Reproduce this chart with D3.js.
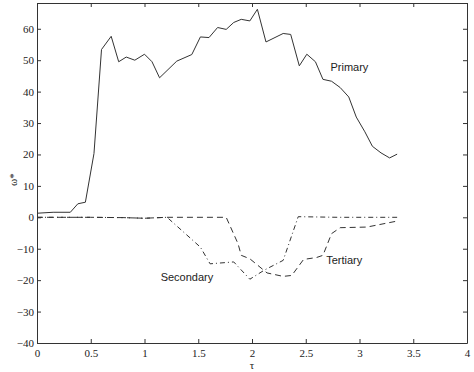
<!DOCTYPE html>
<html>
<head>
<meta charset="utf-8">
<script src="https://cdn.jsdelivr.net/npm/d3@7"></script>
<style>
  body { margin: 0; background: #fff; }
  svg { display: block; }
</style>
</head>
<body>
<svg id="chart"></svg>
<script>
// values
const primaryTau = [0, 0.15, 0.31, 0.38, 0.45, 0.53, 0.60, 0.69, 0.76, 0.83, 0.91, 1.0, 1.07, 1.14, 1.30, 1.44, 1.52, 1.60, 1.68, 1.76, 1.83, 1.90, 1.98, 2.05, 2.13, 2.29, 2.36, 2.44, 2.51, 2.59, 2.66, 2.74, 2.82, 2.90, 2.97, 3.05, 3.12, 3.20, 3.28, 3.35];
const primaryVal = [1.3, 1.6, 1.6, 4.3, 4.8, 20.3, 53.4, 57.6, 49.5, 51, 50, 51.9, 49.5, 44.4, 49.7, 51.8, 57.4, 57.2, 60.4, 59.8, 62, 63, 62.5, 66.2, 55.8, 58.5, 58.2, 48.2, 51.9, 49.5, 43.9, 43.3, 41.3, 38.3, 31.9, 27.2, 22.6, 20.5, 18.9, 20.1];

const secondaryTau = [0, 0.5, 0.8, 1.0, 1.21, 1.52, 1.61, 1.83, 1.98, 2.12, 2.29, 2.43, 2.8, 3.35];
const secondaryVal = [0, 0, -0.1, -0.3, 0, -9.5, -14.8, -14.2, -19.7, -16.7, -13.7, 0.2, 0, 0];

const tertiaryTau = [0, 0.5, 0.8, 1.0, 1.2, 1.76, 1.87, 1.90, 1.98, 2.14, 2.29, 2.37, 2.48, 2.60, 2.66, 2.74, 2.82, 3.07, 3.35];
const tertiaryVal = [0, 0, -0.1, -0.3, 0, 0, -8.4, -12.1, -13.2, -17.7, -18.8, -18.5, -13.4, -12.8, -12.1, -5.2, -3.3, -3.1, -1.2];

const xTicks = [0, 0.5, 1, 1.5, 2, 2.5, 3, 3.5, 4];
const yTicks = [-40, -30, -20, -10, 0, 10, 20, 30, 40, 50, 60];

const width = 474, height = 372;
const margin = { left: 37, right: 7, top: 3, bottom: 29 };
const serif = "'Liberation Serif', 'DejaVu Serif', serif";
const sans = "'Liberation Sans', Arial, sans-serif";
const ink = "#333";

let svg = d3.select("#chart").attr("width", width).attr("height", height);

let x = d3.scaleLinear().domain([0, 4]).range([margin.left, width - margin.right]);
let y = d3.scaleLinear().domain([-40, 68.2]).range([height - margin.bottom, margin.top]);

// axes, matlab style box with inward ticks on all sides
let axB = svg.append("g").attr("transform", `translate(0,${y(-40)})`)
    .call(d3.axisBottom(x).tickValues(xTicks).tickSizeInner(-4).tickSizeOuter(0).tickPadding(6).tickFormat(d => d3.format("")(d)));
let axL = svg.append("g").attr("transform", `translate(${x(0)},0)`)
    .call(d3.axisLeft(y).tickValues(yTicks).tickSizeInner(-4).tickSizeOuter(0).tickPadding(3).tickFormat(d => d < 0 ? "\u2212" + Math.abs(d) : d));
let axT = svg.append("g").attr("transform", `translate(0,${y(68.2)})`)
    .call(d3.axisTop(x).tickValues(xTicks).tickSizeInner(-4).tickSizeOuter(0).tickFormat(""));
let axR = svg.append("g").attr("transform", `translate(${x(4)},0)`)
    .call(d3.axisRight(y).tickValues(yTicks).tickSizeInner(-4).tickSizeOuter(0).tickFormat(""));

[axB, axL, axT, axR].forEach(a => {
    a.selectAll("path, line").attr("stroke", ink).attr("stroke-width", 1);
    a.selectAll("text").attr("font-family", serif).attr("font-size", 11).attr("fill", "#222");
});

// axis labels
svg.append("text")
    .attr("x", x(2)).attr("y", 369)
    .attr("text-anchor", "middle")
    .attr("font-family", serif).attr("font-size", 11).attr("fill", "#222")
    .text("\u03c4");
svg.append("text")
    .attr("transform", `translate(17,${y(12)}) rotate(-90)`)
    .attr("text-anchor", "middle")
    .attr("font-family", serif).attr("font-size", 11).attr("fill", "#222")
    .text("\u03c9*");

let line = d3.line().x(d => x(d[0])).y(d => y(d[1]));

let series = [
    { tau: primaryTau, val: primaryVal, dash: null },
    { tau: secondaryTau, val: secondaryVal, dash: "5,3,1,3" },
    { tau: tertiaryTau, val: tertiaryVal, dash: "6,4" }
];

let gLines = svg.append("g");
series.forEach(s => {
    gLines.append("path")
        .datum(d3.zip(s.tau, s.val))
        .attr("d", line)
        .attr("fill", "none")
        .attr("stroke", ink)
        .attr("stroke-width", 1)
        .attr("stroke-dasharray", s.dash);
});

// series labels
let labels = [
    { text: "Primary", tau: 2.73, v: 46.5 },
    { text: "Secondary", tau: 1.15, v: -20.3 },
    { text: "Tertiary", tau: 2.69, v: -15 }
];
svg.append("g").selectAll("text")
    .data(labels)
    .enter()
    .append("text")
    .attr("x", d => x(d.tau))
    .attr("y", d => y(d.v))
    .attr("font-family", sans).attr("font-size", 11).attr("fill", "#222")
    .text(d => d.text);
</script>
</body>
</html>
